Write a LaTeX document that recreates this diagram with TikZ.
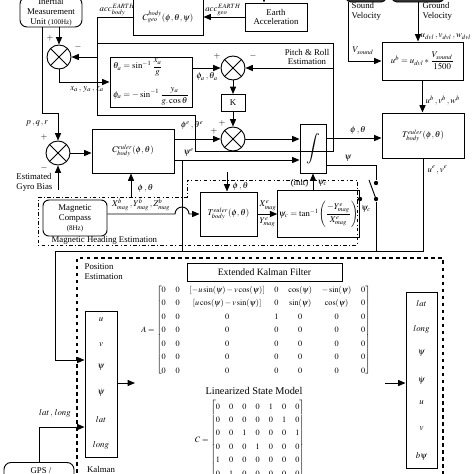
\documentclass[tikz,border=0pt]{standalone}
\usepackage{amsmath}
\usepackage{mathptmx}
\usepackage{fontspec}
\setmainfont{Liberation Serif}
\usetikzlibrary{arrows.meta}
\begin{document}
\begin{tikzpicture}[x=0.03cm,y=-0.03cm,line width=0.8pt,>={Triangle[length=2.2mm,width=1.8mm]},font=\fontsize{7.5}{8.5}\selectfont]
\tikzset{every node/.style={inner sep=1pt},
  blk/.style={draw,align=center,inner sep=1pt},
  junc/.style={draw,circle,minimum size=0.72cm,path picture={\draw (path picture bounding box.north west) -- (path picture bounding box.south east) (path picture bounding box.north east) -- (path picture bounding box.south west);}},
  contact/.style={circle,fill,inner sep=0,minimum size=1.3mm},
  mtx/.style={font=\fontsize{7}{8.5}\selectfont}}
\clip (0,0) rectangle (474,474);

    % sensors and top blocks
    \node[blk,rounded corners=6pt,minimum width=1.86cm,minimum height=0.9cm] (imu) at (51,12) {Inertial\\Measurement\\Unit {\fontsize{6}{7}\selectfont(100Hz)}};
    \node[blk,minimum width=2.1cm,minimum height=1.08cm] (cgeo) at (168,17) {$C^{body}_{geo}(\phi,\theta,\psi)$};
    \node[blk,minimum width=1.86cm,minimum height=0.84cm] (earth) at (276,17) {Earth\\Acceleration};
    \node[blk,rounded corners=4pt,fill=black!80,minimum width=1.2cm,minimum height=0.6cm] (sound) at (366,-8) {};
    \node[blk,rounded corners=4pt,fill=black!80,minimum width=1.56cm,minimum height=0.6cm] (ground) at (418,-8) {};
    \node[anchor=north west,align=left] (soundt) at (350,1) {Sound\\Velocity};
    \node[anchor=north west,align=left] (groundt) at (421,1) {Ground\\Velocity};
    \node[blk,minimum width=2.43cm,minimum height=1.14cm] (ub) at (422.5,61) {$u^b=u_{dvl}*\dfrac{V_{sound}}{1500}$};
    \node[blk,minimum width=2.46cm,minimum height=1.35cm] (tb) at (423,135.5) {$T^{euler}_{body}(\phi,\theta)$};

    \coordinate (eat) at (264,-10);
    \coordinate (vs) at (348,0);
    \draw[->] (eat) -- (eat |- earth.north);
    \draw[->] (earth.west |- cgeo) -- (cgeo);
    \node[anchor=south] (laccg) at (223,17) {$acc^{\,EARTH}_{geo}$};
    \draw[->] (sound.south -| vs) |- (ub);
    \node[anchor=south west] (lvs) at (351,56) {$V_{sound}$};
    \draw[->] (ground.south) -- (ground.south |- ub.north);
    \node[anchor=south west] (ldvl) at (419,41) {$u_{dvl}\,,v_{dvl}\,,w_{dvl}$};
    \draw[->] (ub.south) -- (ub.south |- tb.north);
    \node[anchor=west] (lub) at (424,101) {$u^b\,,v^b\,,w^b$};

    % pitch and roll
    \node[junc] (s1) at (59,57) {};
    \node (p1) at (50,38) {$+$};
    \node (m1) at (78,47) {$-$};
    \coordinate (ab) at (97,17);
    \draw[->] (imu.south -| s1) -- (s1);
    \draw[->] (cgeo) -- (ab) |- (s1);
    \node[anchor=south west] (laccb) at (98,17) {$acc^{\,EARTH}_{body}$};
    \node[blk,minimum width=2.46cm,minimum height=1.5cm] (pr) at (151,82) {$\begin{aligned}\theta_a&=\sin^{-1}\dfrac{x_a}{g}\\[5pt]\phi_a&=-\sin^{-1}\dfrac{y_a}{g.\cos\theta}\end{aligned}$};
    \draw[->] (s1) |- (pr);
    \node[anchor=north] (lxa) at (87,85) {$x_a\,,\,y_a\,,\,z_a$};
    \node[junc] (s2) at (233,68) {};
    \node (p2) at (217,56) {$+$};
    \node (m2) at (253,56) {$-$};
    \draw[->] (pr.east |- s2) -- (s2);
    \node[anchor=north] (lpa) at (207,71) {$\phi_a\,,\theta_a$};
    \node[blk,minimum width=0.72cm,minimum height=0.51cm] (k) at (233,103) {K};
    \node[junc] (s3) at (233,139) {};
    \node (p3a) at (222,123) {$+$};
    \node (p3b) at (214,131) {$+$};
    \draw[->] (s2) -- (k);
    \draw[->] (k) -- (s3);
    \node[blk,minimum width=0.78cm,minimum height=1.47cm] (int) at (313,148.5) {\fontsize{13}{15}\selectfont$\displaystyle\int$};
    \draw[->] (s3) -- (int.west |- s3);
    \draw[line width=0.5pt] (97,43) -- (333,43) -- (333,151) -- (195,151) -- (195,115) -- (97,115) -- cycle;
    \node[align=center] (lpr) at (307,57) {Pitch \& Roll\\Estimation};

    \coordinate (fb) at (333,138);
    \draw[->] (int.east |- fb) -- (tb.west |- fb);
    \draw[->] (fb) |- (s2);
    \node[anchor=south] (lpt) at (358,136) {$\phi\,,\theta$};

    % gyro path
    \node[junc] (s4) at (58,153) {};
    \node (p4) at (44,137) {$+$};
    \node (m4) at (44,168) {$-$};
    \coordinate (b1) at (42,113);
    \draw[->] (imu.south -| b1) -- (b1) -| (s4);
    \node (lpqr) at (37,124) {$p\,,q\,,r$};
    \coordinate (gb) at (58,190);
    \draw[->] (gb) -- (s4);
    \node[align=left,anchor=east] (lgb) at (54,182) {Estimated\\Gyro Bias};
    \node[blk,minimum width=2.46cm,minimum height=1.32cm] (ce) at (133,151) {$C^{euler}_{body}(\phi,\theta)$};
    \draw[->] (s4) -- (ce.west |- s4);
    \draw[->] (ce.east |- s3) -- (s3);
    \node[anchor=south] (lpte) at (192,131) {$\phi^e\,,\theta^e$};
    \coordinate (pe) at (182,160);
    \draw[->] (ce.east |- pe) -- (int.west |- pe);
    \node[anchor=south west] (lpe) at (182,158) {$\psi^e$};
    \coordinate (pt1) at (131,197);
    \draw[->] (pt1) -- (pt1 |- ce.south);
    \node[anchor=west] (lpt1) at (136,188) {$\phi\,,\theta$};

    % magnetic heading
    \draw[dash dot,line width=0.5pt] (38,197) -- (187,197) -- (187,180) -- (357,180) -- (357,245) -- (38,245) -- cycle;
    \node[anchor=south west] (lmh) at (50,246) {Magnetic Heading Estimation};
    \node[blk,rounded corners=5pt,minimum width=1.92cm,minimum height=1.08cm] (mc) at (75,218) {Magnetic\\Compass\\{\fontsize{6}{7}\selectfont(8Hz)}};
    \node[blk,minimum width=1.71cm,minimum height=1.32cm] (mt) at (228.5,214) {$T^{euler}_{body}(\phi,\theta)$};
    \node[blk,minimum width=2.01cm,minimum height=1.41cm] (psc) at (318.5,214) {$\psi_c=\tan^{-1}\!\left(\dfrac{-Y^e_{mag}}{X^e_{mag}}\right)$};
    \coordinate (hop) at (175,214);
    \draw[->] (mc.east |- hop) -- (hop) arc[start angle=180,end angle=0,radius=0.21cm] -- (mt);
    \node[anchor=south] (lxb) at (141,212) {$X^b_{mag}\,,Y^b_{mag}\,,Z^b_{mag}$};
    \coordinate (pt2) at (227,172);
    \draw[->] (pt2) -- (pt2 |- mt.north);
    \node[anchor=west] (lpt2) at (231,186) {$\phi\,,\theta$};
    \draw[->] (mt) -- (psc);
    \node[anchor=south west] (lxe) at (258,212) {$X^e_{mag}$};
    \node[anchor=north west] (lye) at (258,216) {$Y^e_{mag}$};
    \draw[->] (int |- psc.north) -- (int.south);
    \node[anchor=east] (linit) at (310,183) {(init)};
    \node[anchor=west] (lpc) at (316,183) {$\psi_c$};

    % heading switch
    \node[contact] (sw1) at (376,183) {};
    \node[contact] (sw2) at (376,199) {};
    \node[contact] (sw3) at (360,199) {};
    \coordinate (psi) at (376,165);
    \coordinate (blade) at (369,180);
    \draw (int.east |- psi) -- (psi) -- (sw1);
    \node[anchor=south] (lpsi) at (348,163) {$\psi$};
    \draw (sw2.center) -- (blade);
    \draw (psc.east |- sw3) -- (sw3);
    \node (lpc2) at (366,209) {$\psi_c$};

    % measurements bus
    \coordinate (bus) at (55,251);
    \coordinate (inu) at (55,360);
    \node[blk,minimum width=0.96cm,minimum height=4.38cm] (inb) at (101,384) {};
    \draw[->] (tb.south) |- (bus) -- (inu) -- (inb.west |- inu);
    \draw (sw2) -- (sw2 |- bus);
    \draw (pe) -- (pe |- bus);
    \node[anchor=west] (lue) at (426,170) {$u^e\,,v^e$};

    % position estimation
    \draw[dashed,line width=0.9pt] (77,480) -- (77,258) -- (443,258) -- (443,480);
    \node[align=left,anchor=north west] (lpos) at (83,262) {Position\\Estimation};
    \foreach \t/\y in {u/320,v/345,\psi/367,\dot\psi/393,lat/420,long/445}
      \node (in\y) at (101,\y) {$\t$};
    \node[blk,rounded corners=6pt,minimum width=2.1cm,minimum height=1.2cm,anchor=north] (gps) at (39,462) {};
    \node (lgps) at (41,471) {GPS /};
    \coordinate (ll) at (40,427);
    \draw[->] (gps.north) |- (inb.west |- ll);
    \node[anchor=south] (lll) at (55,419) {$lat\,,\,long$};
    \coordinate (io) at (135,383);
    \draw[->] (inb.east |- io) -- (io);
    \node (lkal) at (101,469) {Kalman};

    \node[blk,minimum width=4.65cm,minimum height=0.54cm,font=\fontsize{8.3}{9}\selectfont] (ekf) at (264.5,272) {Extended Kalman Filter};
    \node[mtx] (amat) at (256,330) {\setlength{\arraycolsep}{4.2pt}\renewcommand{\arraystretch}{1.35}$A=\begin{bmatrix}
      0&0&[-u\sin(\psi)-v\cos(\psi)]&0&\cos(\psi)&-\sin(\psi)&0\\
      0&0&[u\cos(\psi)-v\sin(\psi)]&0&\sin(\psi)&\cos(\psi)&0\\
      0&0&0&1&0&0&0\\
      0&0&0&0&0&0&0\\
      0&0&0&0&0&0&0\\
      0&0&0&0&0&0&0\\
      0&0&0&0&0&0&0\end{bmatrix}$};
    \node[font=\fontsize{8.8}{10}\selectfont] (llsm) at (254,391) {Linearized State Model};
    \node[mtx] (cmat) at (250,440) {\setlength{\arraycolsep}{3.9pt}\renewcommand{\arraystretch}{1.35}$C=\begin{bmatrix}
      0&0&0&0&1&0&0\\
      0&0&0&0&0&1&0\\
      0&0&1&0&0&0&1\\
      0&0&0&1&0&0&0\\
      1&0&0&0&0&0&0\\
      0&1&0&0&0&0&0\end{bmatrix}$};

    \node[blk,minimum width=0.93cm,minimum height=5.28cm] (outb) at (421.5,380) {};
    \foreach \t/\y in {lat/304,long/329,\psi/353,\dot\psi/381,u/403,v/429,b\psi/456}
      \node (out\y) at (421.5,\y) {$\t$};
    \coordinate (ko) at (385,383);
    \draw[->] (ko) -- (outb.west |- ko);
\end{tikzpicture}
\end{document}
